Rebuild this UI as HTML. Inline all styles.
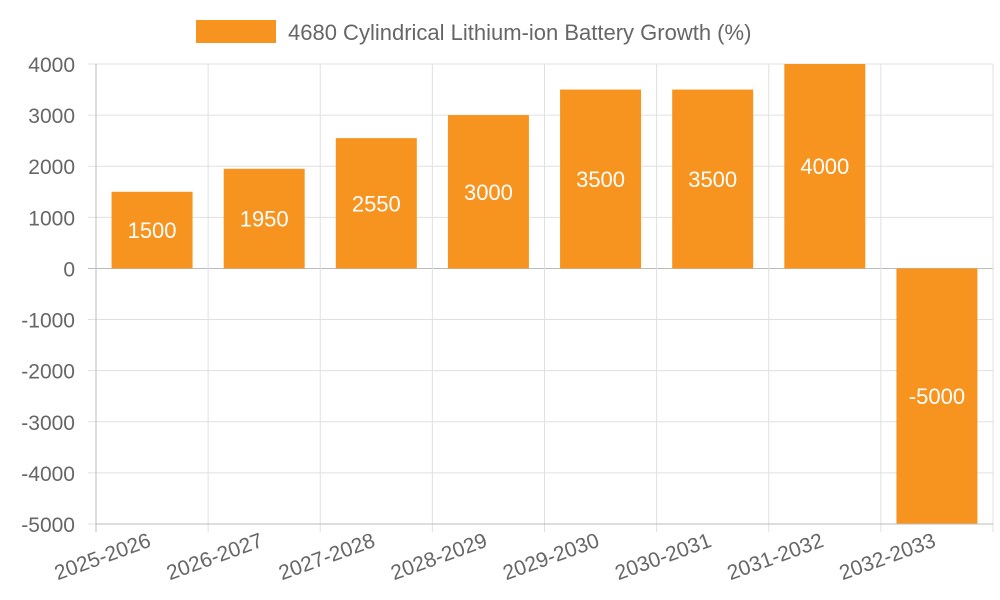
<!DOCTYPE html>
<html><head><meta charset="utf-8"><style>
body{margin:0;background:#fff;}
svg{display:block;font-family:"Liberation Sans",sans-serif;}
</style></head><body>
<svg id="chart" width="1000" height="600" viewBox="0 0 1000 600">
<g>
<rect x="196" y="20" width="80" height="23" fill="#f7941f"/>
<text x="288" y="40" font-size="22" fill="#666">4680 Cylindrical Lithium-ion Battery Growth (%)</text>
</g>
<g id="grid"></g><g id="bars"></g><g id="axes"></g>
</svg>
<script>
const categories=["2025-2026","2026-2027","2027-2028","2028-2029","2029-2030","2030-2031","2031-2032","2032-2033"];
const values=[1500,1950,2550,3000,3500,3500,4000,-5000];
const yTicks=[4000,3000,2000,1000,0,-1000,-2000,-3000,-4000,-5000];
const L=96,R=993,T=64,B=524,yMax=4000,yMin=-5000;
const NS="http://www.w3.org/2000/svg";
function y(v){return T+(yMax-v)/(yMax-yMin)*(B-T);}
const bw=(R-L)/categories.length;
function x(i){return L+bw*(i+0.5);}
function mk(tag,attrs,parent){const e=document.createElementNS(NS,tag);for(const k in attrs)e.setAttribute(k,attrs[k]);parent.appendChild(e);return e;}
const grid=document.getElementById('grid'),bars=document.getElementById('bars'),axes=document.getElementById('axes');
yTicks.forEach(t=>{
 const l=mk('line',{x1:L-8,x2:R,y1:y(t),y2:y(t),stroke:t===0?'#bbb':'#e0e0e0','stroke-width':1},grid);
 
 
 const tx=mk('text',{x:75,y:y(t)+8,'text-anchor':'end','font-size':21,fill:'#666'},axes);
 tx.textContent=t;
 
 
});
for(let i=0;i<=categories.length;i++){
 const gx=L+bw*i;
 const l=mk('line',{x1:gx,x2:gx,y1:T,y2:B+8,stroke:i===0?'#bbb':'#e0e0e0','stroke-width':1},grid);
 
 
}
const xa=mk('line',{x1:L,x2:R,y1:B,y2:B,stroke:'#bbb'},axes);


categories.forEach((c,i)=>{
 const v=values[i],top=y(Math.max(v,0)),bot=y(Math.min(v,0));
 const r=mk('rect',{x:x(i)-40.5,y:top,width:81,height:bot-top,fill:'#f7941f'},bars);
 
 
 const vt=mk('text',{x:x(i),y:(top+bot)/2+8,'text-anchor':'middle','font-size':22,fill:'#fff'},bars);
 vt.textContent=v;
 
 
 const xt=mk('text',{x:x(i),y:B+22,'text-anchor':'end','font-size':21,fill:'#666',transform:'rotate(-20 '+x(i)+' '+(B+22)+')'},axes);
 xt.textContent=c;
 
 
});
</script>
</body></html>
